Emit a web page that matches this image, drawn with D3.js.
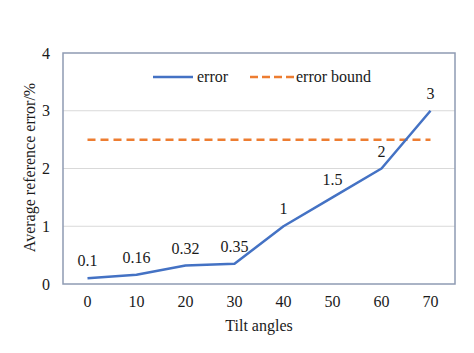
<!doctype html>
<html lang="en">
<head>
  <meta charset="UTF-8">
  <script src="https://cdn.jsdelivr.net/npm/d3@7"></script>
  <title>Average reference error</title>
  <style>
    body{ margin:0; background:#fff;}
    .chart svg{ display:block;}
  </style>
</head>
<body>
  <div class="chart"></div>
  <script>
    const angles = ['0', '10', '20', '30', '40', '50', '60', '70'];
    const errors = [0.1, 0.16, 0.32, 0.35, 1, 1.5, 2, 3];
    const errorBound = [2.5, 2.5, 2.5, 2.5, 2.5, 2.5, 2.5, 2.5];
    const yTicks = [0, 1, 2, 3, 4];
    const legendNames = ['error', 'error bound'];

    const bxSize = {w: 474, h: 353};
    const margin = {top: 53, right: 19, bottom: 69, left: 63};
    const [width, height] = [bxSize.w - margin.left - margin.right, bxSize.h - margin.top - margin.bottom];
    const font = '"Liberation Serif", "Times New Roman", serif';

    const root = d3.select('.chart').append('svg')
      .attr('width', bxSize.w).attr('height', bxSize.h);
    const svg = root.append('g').attr('transform', `translate(${margin.left} ${margin.top})`);

    const xScale = d3.scaleBand().domain(angles).range([0, width]);
    const yScale = d3.scaleLinear().domain([0, 4]).range([height, 0]);
    const xc = d => xScale(d) + xScale.bandwidth() / 2;

    // gridlines
    svg.append('g').selectAll('line').data(yTicks.slice(1, -1)).enter().append('line')
      .attr('x1', 0).attr('x2', width)
      .attr('y1', d => yScale(d)).attr('y2', d => yScale(d))
      .attr('stroke', '#d9d9d9').attr('stroke-width', 1);

    // plot border
    svg.append('rect').attr('x', 0).attr('y', 0).attr('width', width).attr('height', height)
      .attr('fill', 'none').attr('stroke', '#8e9bb3').attr('stroke-width', 1.5);

    // axes (text only)
    const yAxis = svg.append('g').call(d3.axisLeft(yScale).tickValues(yTicks).tickFormat(d3.format('d')).tickSize(0).tickPadding(13));
    yAxis.select('.domain').remove();

    const xAxis = svg.append('g').attr('transform', `translate(0, ${height})`)
      .call(d3.axisBottom(xScale).tickSize(0).tickPadding(12));
    xAxis.select('.domain').remove();

    // axis titles
    root.append('text').attr('x', margin.left + width / 2).attr('y', 331)
      .attr('text-anchor', 'middle').text('Tilt angles');
    root.append('text').attr('transform', `translate(35 ${margin.top + height / 2 - 1}) rotate(-90)`)
      .attr('text-anchor', 'middle').text('Average reference error/%');

    // error bound
    const line = d3.line().x((d, i) => xc(angles[i])).y(d => yScale(d));
    svg.append('path').datum(errorBound).attr('d', line)
      .attr('fill', 'none').attr('stroke', '#ed7d31').attr('stroke-width', 2.5).attr('stroke-dasharray', '8 5');

    // error line
    svg.append('path').datum(errors).attr('d', line)
      .attr('fill', 'none').attr('stroke', '#4472c4').attr('stroke-width', 2.5).attr('stroke-linejoin', 'round');

    // data labels
    svg.append('g').selectAll('text').data(errors).enter().append('text')
      .attr('x', (d, i) => xc(angles[i])).attr('y', d => yScale(d) - 12)
      .attr('text-anchor', 'middle').text(d => d);

    // legend
    const legend = root.append('g').attr('transform', 'translate(0 77)');
    legend.append('line').attr('x1', 153).attr('x2', 193).attr('y1', 0).attr('y2', 0)
      .attr('stroke', '#4472c4').attr('stroke-width', 2.5);
    legend.append('text').attr('x', 197).attr('y', 5).text(legendNames[0]);
    legend.append('line').attr('x1', 250).attr('x2', 294).attr('y1', 0).attr('y2', 0)
      .attr('stroke', '#ed7d31').attr('stroke-width', 2.5).attr('stroke-dasharray', '8 4');
    legend.append('text').attr('x', 296).attr('y', 5).text(legendNames[1]);

    root.selectAll('text')
      .style('font-family', font).style('font-size', '16px').style('fill', '#1a1a1a');
  </script>
</body>
</html>
